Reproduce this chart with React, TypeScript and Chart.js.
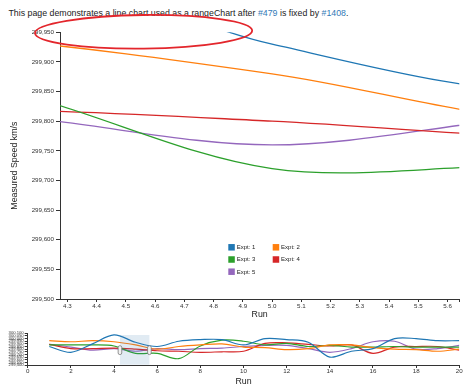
import React, { useEffect, useRef } from 'react';
import { Chart, registerables } from 'chart.js';

Chart.register(...registerables);

// ---- data (Michelson–Morley speed of light measurements, km/s) ----
const runs = [1, 2, 3, 4, 5, 6, 7, 8, 9, 10, 11, 12, 13, 14, 15, 16, 17, 18, 19, 20];
const expt1 = [299850, 299740, 299900, 300070, 299930, 299850, 299950, 299980, 299980, 299880, 300000, 299980, 299930, 299650, 299760, 299810, 300000, 300000, 299960, 299960];
const expt2 = [299960, 299940, 299960, 299940, 299880, 299800, 299850, 299880, 299900, 299840, 299830, 299790, 299810, 299880, 299880, 299830, 299800, 299790, 299760, 299800];
const expt3 = [299880, 299880, 299880, 299860, 299720, 299720, 299620, 299860, 299970, 299950, 299880, 299910, 299850, 299870, 299840, 299840, 299850, 299840, 299840, 299840];
const expt4 = [299890, 299810, 299810, 299820, 299800, 299770, 299760, 299740, 299750, 299760, 299910, 299920, 299890, 299860, 299880, 299720, 299840, 299850, 299850, 299780];
const expt5 = [299890, 299840, 299780, 299810, 299760, 299810, 299790, 299810, 299820, 299850, 299870, 299870, 299810, 299740, 299810, 299940, 299950, 299800, 299810, 299870];
const seriesValues = [expt1, expt2, expt3, expt4, expt5];
const seriesLabels = ['Expt: 1', 'Expt: 2', 'Expt: 3', 'Expt: 4', 'Expt: 5'];
const seriesColors = ['#1f77b4', '#ff7f0e', '#2ca02c', '#d62728', '#9467bd'];

const focusRange = [4.275, 5.64];
const mainYRange = [299500, 299950];
const mainYStep = 50;
const mainXStep = 0.1;
const rangeXRange = [0, 20];
const rangeXStep = 2;
const rangeYRange = [299500, 300100];
const rangeYStep = 50;

const FONT = '"Liberation Sans", Arial, Helvetica, sans-serif';
const AXIS = '#333';

function buildDatasets(width: number) {
  return seriesValues.map((vals, i) => ({
    label: seriesLabels[i],
    data: runs.map((r, j) => ({ x: r, y: vals[j] })),
    borderColor: seriesColors[i],
    backgroundColor: seriesColors[i],
    borderWidth: width,
    pointRadius: 0,
    pointHoverRadius: 0,
    tension: 0.33,
    fill: false,
  }));
}

const fmtThousands = (v: number) => Math.round(v).toLocaleString('en-US');

const legendPlugin = {
  id: 'insideLegend',
  afterDatasetsDraw(chart: any) {
    const ctx = chart.ctx;
    const a = chart.chartArea;
    ctx.save();
    chart.data.datasets.forEach((ds: any, i: number) => {
      const col = i % 2;
      const row = Math.floor(i / 2);
      const x = a.left + 168.3 + col * 44.4;
      const y = a.top + 215 + row * 12.2;
      ctx.fillStyle = ds.borderColor;
      ctx.fillRect(x, y - 3.25, 6.5, 6.5);
      ctx.fillStyle = '#222';
      ctx.font = `6px ${FONT}`;
      ctx.textBaseline = 'middle';
      ctx.textAlign = 'left';
      ctx.fillText(ds.label, x + 8.4, y + 0.3);
    });
    ctx.restore();
  },
};

const ellipsePlugin = {
  id: 'redEllipse',
  afterDraw(chart: any) {
    const ctx = chart.ctx;
    ctx.save();
    ctx.beginPath();
    ctx.ellipse(143.6, 31.8, 108.6, 16.8, -0.011, 0, Math.PI * 2);
    ctx.strokeStyle = '#e3262c';
    ctx.lineWidth = 1.8;
    ctx.stroke();
    ctx.restore();
  },
};

function roundedRect(ctx: CanvasRenderingContext2D, x: number, y: number, w: number, h: number, r: number) {
  ctx.beginPath();
  ctx.moveTo(x + r, y);
  ctx.lineTo(x + w - r, y);
  ctx.arc(x + w - r, y + r, r, -Math.PI / 2, 0);
  ctx.lineTo(x + w, y + h - r);
  ctx.arc(x + w - r, y + h - r, r, 0, Math.PI / 2);
  ctx.lineTo(x + r, y + h);
  ctx.arc(x + r, y + h - r, r, Math.PI / 2, Math.PI);
  ctx.lineTo(x, y + r);
  ctx.arc(x + r, y + r, r, Math.PI, Math.PI * 1.5);
  ctx.closePath();
}

const brushPlugin = {
  id: 'brush',
  afterDatasetsDraw(chart: any) {
    const ctx = chart.ctx;
    const a = chart.chartArea;
    const xs = chart.scales.x;
    const x0 = xs.getPixelForValue(focusRange[0]);
    const x1 = xs.getPixelForValue(focusRange[1]);
    ctx.save();
    ctx.fillStyle = 'rgba(70,130,180,0.16)';
    ctx.fillRect(x0, a.top + 1.7, x1 - x0, a.bottom - a.top - 2);
    const cy = (a.top + a.bottom) / 2 + 1;
    [x0, x1].forEach((x) => {
      roundedRect(ctx, x - 1.8, cy - 4.4, 3.6, 8.8, 1.6);
      ctx.fillStyle = '#f2f2f2';
      ctx.fill();
      ctx.strokeStyle = '#777';
      ctx.lineWidth = 0.8;
      ctx.stroke();
    });
    ctx.restore();
  },
};

export default function App() {
  const mainRef = useRef<HTMLCanvasElement | null>(null);
  const rangeRef = useRef<HTMLCanvasElement | null>(null);

  useEffect(() => {
    const tickFont = { family: FONT, size: 6.2 };
    const titleFont = { family: FONT, size: 8.8 };

    const main = new Chart(mainRef.current as HTMLCanvasElement, {
      type: 'line',
      data: { datasets: buildDatasets(1.3) as any },
      options: {
        responsive: false,
        animation: false,
        events: [],
        layout: { padding: { left: 9, top: 32.3, right: 14.7, bottom: 0 } },
        elements: { line: { capBezierPoints: false } as any },
        plugins: { legend: { display: false }, tooltip: { enabled: false } },
        scales: {
          x: {
            type: 'linear',
            min: focusRange[0],
            max: focusRange[1],
            afterFit: (s: any) => { s.height = 23; },
            afterBuildTicks: (s: any) => { s.ticks.push({ value: s.max }); },
            ticks: {
              stepSize: mainXStep,
              includeBounds: false,
              autoSkip: false,
              maxRotation: 0,
              padding: 1,
              color: AXIS,
              font: tickFont,
              callback: (v: any) => {
                const n = Number(v);
                return Math.abs(n * 10 - Math.round(n * 10)) < 1e-6 ? n.toFixed(1) : '';
              },
            },
            grid: { drawOnChartArea: false, drawTicks: true, tickLength: 3, color: AXIS },
            border: { display: true, color: AXIS },
            title: { display: true, text: 'Run', color: '#222', font: titleFont, padding: { top: 0, bottom: 2 } },
          },
          y: {
            type: 'linear',
            min: mainYRange[0],
            max: mainYRange[1],
            afterFit: (s: any) => { s.width = 51; },
            ticks: {
              stepSize: mainYStep,
              autoSkip: false,
              padding: 2,
              color: AXIS,
              font: tickFont,
              callback: (v: any) => fmtThousands(Number(v)),
            },
            grid: { drawOnChartArea: false, drawTicks: true, tickLength: 4, color: AXIS },
            border: { display: true, color: AXIS },
            title: { display: true, text: 'Measured Speed km/s', color: '#222', font: titleFont, padding: { top: 0, bottom: 0 } },
          },
        },
      },
      plugins: [legendPlugin, ellipsePlugin],
    });

    const range = new Chart(rangeRef.current as HTMLCanvasElement, {
      type: 'line',
      data: { datasets: buildDatasets(1.2) as any },
      options: {
        responsive: false,
        animation: false,
        events: [],
        layout: { padding: { left: 0, top: 11.3, right: 14.7, bottom: 0 } },
        elements: { line: { capBezierPoints: false } as any },
        plugins: { legend: { display: false }, tooltip: { enabled: false } },
        scales: {
          x: {
            type: 'linear',
            min: rangeXRange[0],
            max: rangeXRange[1],
            afterFit: (s: any) => { s.height = 24; },
            ticks: {
              stepSize: rangeXStep,
              autoSkip: false,
              maxRotation: 0,
              padding: 0,
              color: AXIS,
              font: tickFont,
            },
            grid: { drawOnChartArea: false, drawTicks: true, tickLength: 3, color: AXIS },
            border: { display: true, color: AXIS },
            title: { display: true, text: 'Run', color: '#222', font: titleFont, padding: { top: 0, bottom: 2.2 } },
          },
          y: {
            type: 'linear',
            min: rangeYRange[0],
            max: rangeYRange[1],
            afterFit: (s: any) => { s.width = 27.7; },
            ticks: {
              stepSize: rangeYStep,
              autoSkip: false,
              padding: 1,
              color: AXIS,
              font: { family: FONT, size: 4.2 },
              callback: (v: any) => fmtThousands(Number(v)),
            },
            grid: { drawOnChartArea: false, drawTicks: true, tickLength: 3, color: AXIS },
            border: { display: true, color: AXIS },
          },
        },
      },
      plugins: [brushPlugin],
    });

    return () => {
      main.destroy();
      range.destroy();
    };
  }, []);

  return (
    <div style={{ position: 'absolute', left: 0, top: 0, width: 474, height: 389, background: '#fff', overflow: 'hidden' }}>
      <div
        style={{
          position: 'absolute',
          left: 8.5,
          top: 6.9,
          font: `8.8px ${FONT}`,
          lineHeight: '12px',
          color: '#222',
          whiteSpace: 'nowrap',
        }}
      >
        This page demonstrates a line chart used as a rangeChart after{' '}
        <span style={{ color: '#337ab7' }}>#479</span> is fixed by{' '}
        <span style={{ color: '#337ab7' }}>#1408</span>.
      </div>
      <canvas
        ref={mainRef}
        width={474}
        height={322}
        style={{ position: 'absolute', left: 0, top: 0, width: 474, height: 322, display: 'block' }}
      />
      <canvas
        ref={rangeRef}
        width={474}
        height={67}
        style={{ position: 'absolute', left: 0, top: 322, width: 474, height: 67, display: 'block' }}
      />
    </div>
  );
}
